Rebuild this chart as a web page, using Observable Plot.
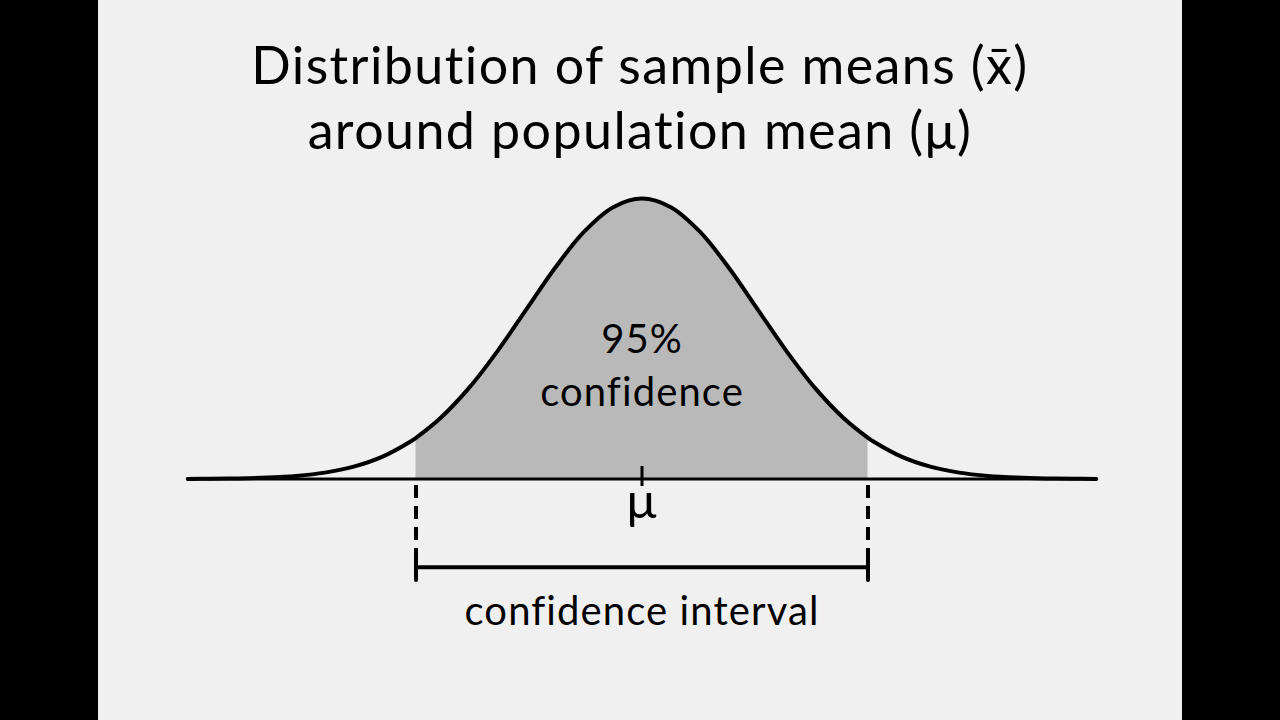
<!DOCTYPE html>
<html>
<head>
<meta charset="utf-8">
<script src="https://cdn.jsdelivr.net/npm/d3@7"></script>
<script src="https://cdn.jsdelivr.net/npm/@observablehq/plot@0.6"></script>
<style>
  html, body { margin: 0; padding: 0; background: #000; width: 1280px; height: 720px; overflow: hidden; }
  #panel { position: absolute; left: 98px; top: 0; width: 1084px; height: 720px; background: #f0f0f0; }
  #title { height: 170px; box-sizing: border-box; padding-top: 32px; text-align: center;
           font-family: Lato, "Open Sans", sans-serif; font-size: 52px; line-height: 65px; color: #000;
           letter-spacing: 1.4px; font-variant-ligatures: none; }
  #chart svg { display: block; }
  #chart svg text { font-variant-ligatures: none; }
</style>
</head>
<body>
<div id="panel">
  <div id="title">Distribution of sample means (x̄)<br>around population mean (μ)</div>
  <div id="chart"></div>
</div>
<script>
// Curve: position in standard deviations from μ, height relative to the peak
const zValues = [-3.94, -3.75, -3.5, -3.25, -3, -2.75, -2.5, -2.25, -2, -1.96, -1.75, -1.5, -1.25, -1, -0.75, -0.5, -0.25, 0,
                 0.25, 0.5, 0.75, 1, 1.25, 1.5, 1.75, 1.96, 2, 2.25, 2.5, 2.75, 3, 3.25, 3.5, 3.75, 3.94];
const heights = [0.0004, 0.0009, 0.0022, 0.0051, 0.0111, 0.0228, 0.0439, 0.0796, 0.1353, 0.1465, 0.2163, 0.3247, 0.4578, 0.6065, 0.7548, 0.8825, 0.9692, 1,
                 0.9692, 0.8825, 0.7548, 0.6065, 0.4578, 0.3247, 0.2163, 0.1465, 0.1353, 0.0796, 0.0439, 0.0228, 0.0111, 0.0051, 0.0022, 0.0009, 0.0004];
const ciBounds = [-1.96, 1.96];
const axisExtent = [-3.94, 3.94];
const centerLabel = "μ";
const shadedLabel = "95%\nconfidence";
const intervalLabel = "confidence interval";

const curve = zValues.map((z, i) => ({z, h: heights[i]}));
const shaded = curve.filter(d => d.z >= ciBounds[0] && d.z <= ciBounds[1]);

const font = "Lato, 'Open Sans', sans-serif";
const chart = Plot.plot({
  width: 1084,
  height: 550,
  marginLeft: 82.3,
  marginRight: 79.3,
  marginTop: 28,
  marginBottom: 241.5,
  x: {domain: [-4, 4], axis: null},
  y: {domain: [0, 1], axis: null},
  style: {background: "transparent", fontFamily: font, color: "#000"},
  marks: [
    Plot.areaY(shaded, {x: "z", y: "h", fill: "#b9b9b9", curve: "catmull-rom"}),
    Plot.ruleY([0], {x1: axisExtent[0], x2: axisExtent[1], stroke: "#000", strokeWidth: 3}),
    Plot.line(curve, {x: "z", y: "h", stroke: "#000", strokeWidth: 4, curve: "catmull-rom"}),
    // tick at mu
    Plot.ruleX([0], {y1: 0.0446, y2: -0.0267, stroke: "#000", strokeWidth: 3}),
    // dashed drop lines
    Plot.ruleX(ciBounds, {y1: -0.0232, y2: -0.2656, stroke: "#000", strokeWidth: 4, strokeDasharray: "13,8"}),
    // end caps
    Plot.ruleX(ciBounds, {y1: -0.2656, y2: -0.362, stroke: "#000", strokeWidth: 4, strokeLinecap: "round"}),
    // interval bar
    Plot.ruleY([-0.3144], {x1: ciBounds[0], x2: ciBounds[1], stroke: "#000", strokeWidth: 4}),
    Plot.text([centerLabel], {x: 0, y: -0.1408, text: d => d, fontSize: 50, lineAnchor: "bottom", fill: "#000", fontFamily: font}),
    Plot.text([shadedLabel], {x: 0, y: 0.262, text: d => d, fontSize: 40, lineHeight: 1.325, lineAnchor: "bottom", fill: "#000", fontFamily: font, style: "letter-spacing:1px"}),
    Plot.text([intervalLabel], {x: 0, y: -0.52, text: d => d, fontSize: 40, lineAnchor: "bottom", fill: "#000", fontFamily: font})
  ]
});
// letter spacing on the inner labels
chart.querySelectorAll("text").forEach(t => t.style.letterSpacing = "1.1px");
document.getElementById("chart").appendChild(chart);
</script>
</body>
</html>
